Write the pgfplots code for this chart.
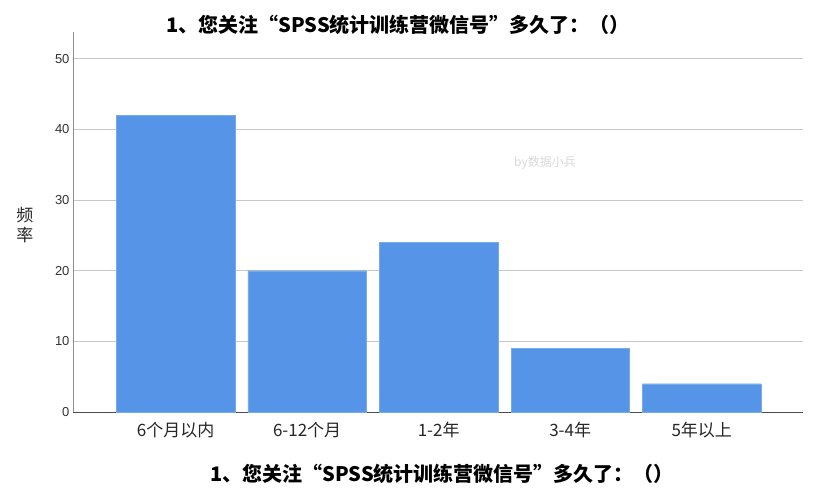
\documentclass[border=0pt]{standalone}
\usepackage{pgfplots}
\pgfplotsset{compat=1.18}
\usepackage{fontspec}
\setmainfont{Liberation Sans}
\newfontfamily\cjk{Noto Sans CJK SC}
\definecolor{barblue}{RGB}{85,148,230}
\definecolor{gridgray}{RGB}{200,200,200}
\begin{document}
\begin{tikzpicture}[x=1pt,y=1pt]
\path (-73,-87) rectangle (763,412);
\begin{axis}[
  at={(0,0)}, anchor=south west,
  scale only axis, width=730pt, height=380pt,
  xmin=-0.78, xmax=4.77, ymin=0, ymax=53.8,
  xtick={0,1,2,3,4},
  xticklabels={{\cjk 6个月以内},{\cjk 6-12个月},{\cjk 1-2年},{\cjk 3-4年},{\cjk 5年以上}},
  ytick={0,10,20,30,40,50},
  /pgf/number format/assume math mode=true,
  tick style={draw=none},
  axis x line*=bottom, axis y line*=left,
  x axis line style={draw=black!70, -},
  y axis line style={draw=black!45, -},
  ymajorgrids, grid style={gridgray, line width=0.8pt},
  yticklabel style={font=\fontsize{13}{15}\selectfont, text=black!80},
  xticklabel style={font=\fontsize{17}{19}\selectfont, text=black!85, yshift=-7pt},
  axis on top=false,
]
\addplot[ybar, bar width=0.9, fill=barblue, draw=barblue!80!white] coordinates {(0,42) (1,20) (2,24) (3,9) (4,4)};
\end{axis}
\node[font=\cjk\bfseries\fontsize{20}{22}\selectfont, anchor=center] at (325,387) {1、您关注“SPSS统计训练营微信号”多久了：（）};
\node[font=\cjk\bfseries\fontsize{20}{22}\selectfont, anchor=center] at (369,-62) {1、您关注“SPSS统计训练营微信号”多久了：（）};
\node[font=\cjk\fontsize{17}{20}\selectfont, align=center, text=black!85] at (-48,187) {频\\率};
\node[font=\cjk\fontsize{12}{14}\selectfont, text=black!15] at (472,249) {by数据小兵};
\end{tikzpicture}
\end{document}
